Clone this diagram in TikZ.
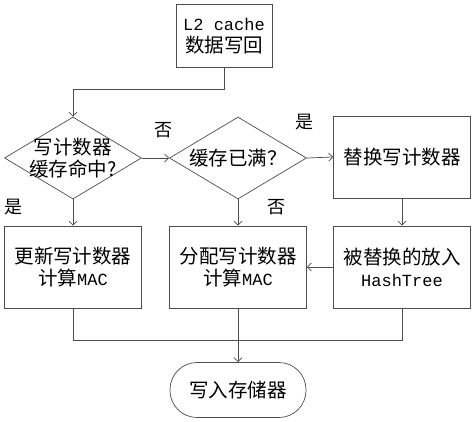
\documentclass[tikz,border=0pt]{standalone}
\usepackage{fontspec}
\setmainfont{Noto Sans CJK SC}
\newfontfamily\mono{Liberation Mono}
\newcommand\lat[1]{{\fontsize{17}{21}\selectfont\mono #1}}
\usetikzlibrary{shapes.geometric,arrows.meta}

\begin{document}
\begin{tikzpicture}[x=1pt, y=-1pt,
	font=\fontsize{19.5}{22}\selectfont,
	draw=black!70, line width=0.7pt,
	box/.style={draw, rectangle, minimum width=137pt, minimum height=82pt, inner sep=0pt, align=center},
	test/.style={draw, diamond, shape aspect=1.67, minimum width=137pt, minimum height=82pt, inner sep=-6pt, align=center},
	flow/.style={-{Straight Barb[length=4pt, width=8pt]}},
	answer/.style={font=\fontsize{18}{20}\selectfont}]
	\useasboundingbox (0, 0) rectangle (474, 421);

	\node[box, minimum width=96pt, minimum height=63pt] (l2) at (224, 36) {\lat{L2 cache}\\数据写回};
	\node[test] (hit) at (73, 158) {写计数器\\缓存命中?};
	\node[test] (full) at (238, 158) {缓存已满？};
	\node[box] (swap) at (402, 157) {替换写计数器};
	\node[box] (upd) at (73, 267) {更新写计数器\\计算\lat{MAC}};
	\node[box] (alloc) at (238, 267) {分配写计数器\\计算\lat{MAC}};
	\node[box] (tree) at (402, 267) {被替换的放入\\\lat{HashTree}};
	\node[draw, rectangle, rounded corners=27pt, minimum width=136pt, minimum height=55pt] (store) at (238, 390) {写入存储器};

	\draw[flow] (l2.south) -- ++(0, 21) -| (hit.north);
	\draw[flow] (hit.east) -- (full.west);
	\draw[flow] (full.east) -- (swap.west);
	\draw[flow] (hit.south) -- (upd.north);
	\draw[flow] (full.south) -- (alloc.north);
	\draw[flow] (swap.south) -- (tree.north);
	\draw[flow] (tree.west) -- (alloc.east);
	\draw (upd.south) -- ++(0, 32) -| (tree.south);
	\draw[flow] (alloc.south) -- (store.north);

	\node[answer] (no1) at (163, 130) {否};
	\node[answer] (yes1) at (304, 122) {是};
	\node[answer] (yes2) at (14, 207) {是};
	\node[answer] (no2) at (276, 207) {否};
\end{tikzpicture}
\end{document}
